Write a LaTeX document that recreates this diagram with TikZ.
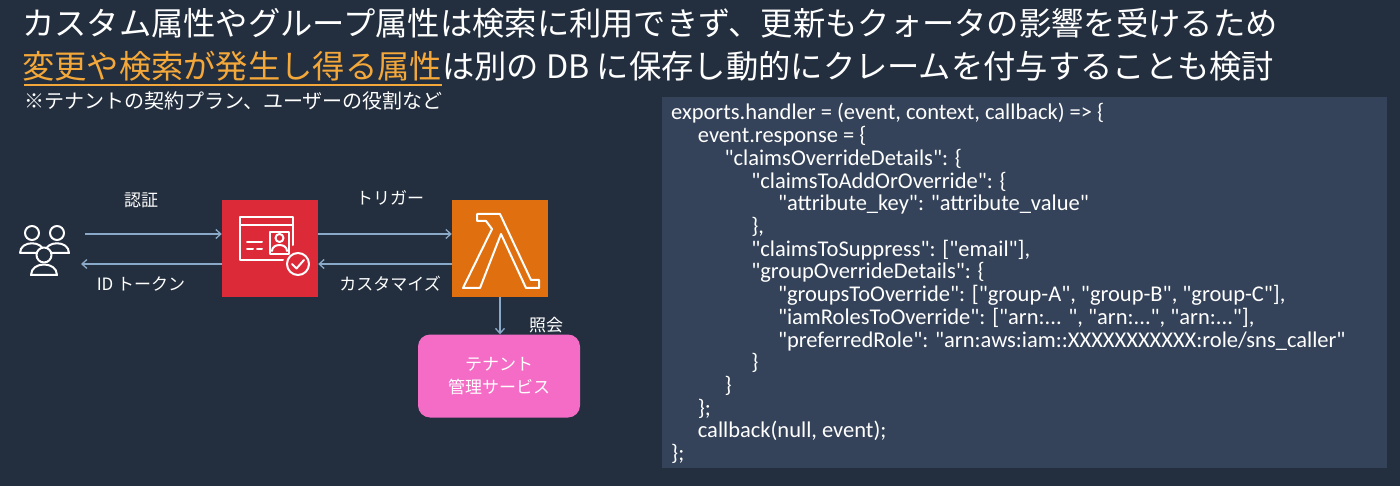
\documentclass[tikz,border=0pt]{standalone}
\usepackage{fontspec}
\setmainfont{Noto Sans CJK JP}
\newfontfamily\codefont{Carlito}
\definecolor{bg}{HTML}{232F3E}
\definecolor{codebg}{HTML}{34435A}
\definecolor{arr}{HTML}{8AA8C8}
\definecolor{orng}{HTML}{F5A83A}
\definecolor{cog}{HTML}{DD2A38}
\definecolor{lam}{HTML}{E0700F}
\definecolor{pink}{HTML}{F46CC6}
\begin{document}
\begin{tikzpicture}[x=1pt,y=-1pt,
  ttl/.style={text=white,anchor=base west,inner sep=0,font=\fontsize{32.3}{32.3}\selectfont},
  lbl/.style={text=white,font=\fontsize{17}{17}\selectfont},
  cl/.style={text=white,anchor=base west,inner sep=0,font=\codefont\fontsize{22.5}{22.5}\selectfont},
  conn/.style={arr,line width=1.3pt,-{Straight Barb[length=5pt,width=9pt]}},
  ico/.style={white,line width=2.4pt,line join=round,line cap=round}]
\usetikzlibrary{arrows.meta}
\fill[bg] (0,0) rectangle (1400,486);
\useasboundingbox (0,0) rectangle (1400,486);
\node[ttl] (t1) at (22,36) {カスタム属性やグループ属性は検索に利用できず、更新もクォータの影響を受けるため};
\node[ttl] (t2) at (22,79) {\textcolor{orng}{変更や検索が発生し得る属性}は別の DB に保存し動的にクレームを付与することも検討};
\draw[orng,line width=1.5pt] (24,85) -- (442,85);
\node[ttl,font=\fontsize{20}{20}\selectfont] (t3) at (24,109) {※テナントの契約プラン、ユーザーの役割など};
% people icon
\begin{scope}[ico,line width=2pt]
\draw (32,233) circle (7); \draw (20,253) .. controls (20,240) and (44,240) .. (44,253) -- (20,253);
\draw (57,233) circle (7); \draw (45,253) .. controls (45,240) and (69,240) .. (69,253) -- (45,253);
\draw[fill=bg] (44,255) circle (7.5); \draw[fill=bg] (31,275) .. controls (31,261) and (57,261) .. (57,275) -- cycle;
\end{scope}
\coordinate (pp) at (45,250);
% cognito
\node[fill=cog,minimum width=96pt,minimum height=97pt,inner sep=0] (cg) at (270,248.5) {};
\begin{scope}[ico,line width=2pt]
\draw (293,245) -- (293,217) -- (240,217) -- (240,260) -- (283,260);
\draw (240,225) -- (293,225);
\draw (270,232) rectangle (289,254);
\draw (279.5,238) circle (4);
\draw (272,251) .. controls (272,243) and (287,243) .. (287,251);
\draw (247,242) -- (262,242); \draw (247,249) -- (253,249); \draw (257,249) -- (262,249);
\draw[fill=cog] (298,264) circle (11);
\draw (292,264) -- (296.5,268.5) -- (304,260);
\end{scope}
% lambda
\node[fill=lam,minimum width=96pt,minimum height=97pt,inner sep=0] (lm) at (500,248.5) {};
\draw[ico,line width=2pt] (477,214) -- (500,214) -- (531,280) -- (539,280) -- (539,288) -- (526,288) -- (501,234) -- (480,288) -- (463,288) -- (492,229) -- (486,221) -- (477,221) -- cycle;
% pink box
\node[fill=pink,rounded corners=12pt,minimum width=162pt,minimum height=83pt,text=white,align=center,font=\fontsize{17}{23}\selectfont] (tn) at (499,376) {テナント\\管理サービス};
% connectors
\draw[conn] ([xshift=40pt,yshift=16pt]pp) -- ([yshift=14.5pt]cg.west);
\draw[conn] ([yshift=-15.5pt]cg.west) -- ([xshift=36pt,yshift=-14pt]pp);
\draw[conn] ([yshift=14.5pt]cg.east) -- ([yshift=14.5pt]lm.west);
\draw[conn] ([yshift=-15.5pt]lm.west) -- ([yshift=-15.5pt]cg.east);
\draw[conn] (lm.south) -- (tn.north -| lm.south);
\node[lbl] (l1) at (141,200) {認証};
\node[lbl] (l2) at (141,284) {ID トークン};
\node[lbl] (l3) at (390,198) {トリガー};
\node[lbl] (l4) at (390,284) {カスタマイズ};
\node[lbl] (l5) at (546,325) {照会};
% code
\node[fill=codebg,minimum width=725pt,minimum height=371pt,inner sep=0,anchor=north west] (cb) at (662,97) {};
\foreach \i/\n/\t in {
0/0/{exports.handler = (event, context, callback) => \{},
1/1/{event.response = \{},
2/2/{"claimsOverrideDetails": \{},
3/3/{"claimsToAddOrOverride": \{},
4/4/{"attribute\_key": "attribute\_value"},
5/3/{\},},
6/3/{"claimsToSuppress": ["email"],},
7/3/{"groupOverrideDetails": \{},
8/4/{"groupsToOverride": ["group-A", "group-B", "group-C"],},
9/4/{"iamRolesToOverride": ["arn:... ", "arn:...", "arn:..."],},
10/4/{"preferredRole": "arn:aws:iam::XXXXXXXXXXX:role/sns\_caller"},
11/3/{\}},
12/2/{\}},
13/1/{\};},
14/1/{callback(null, event);},
15/0/{\};}}
{\node[cl] (c\i) at ({671+\n*26.7},{120+\i*22.7}) {\t};}
\end{tikzpicture}
\end{document}
